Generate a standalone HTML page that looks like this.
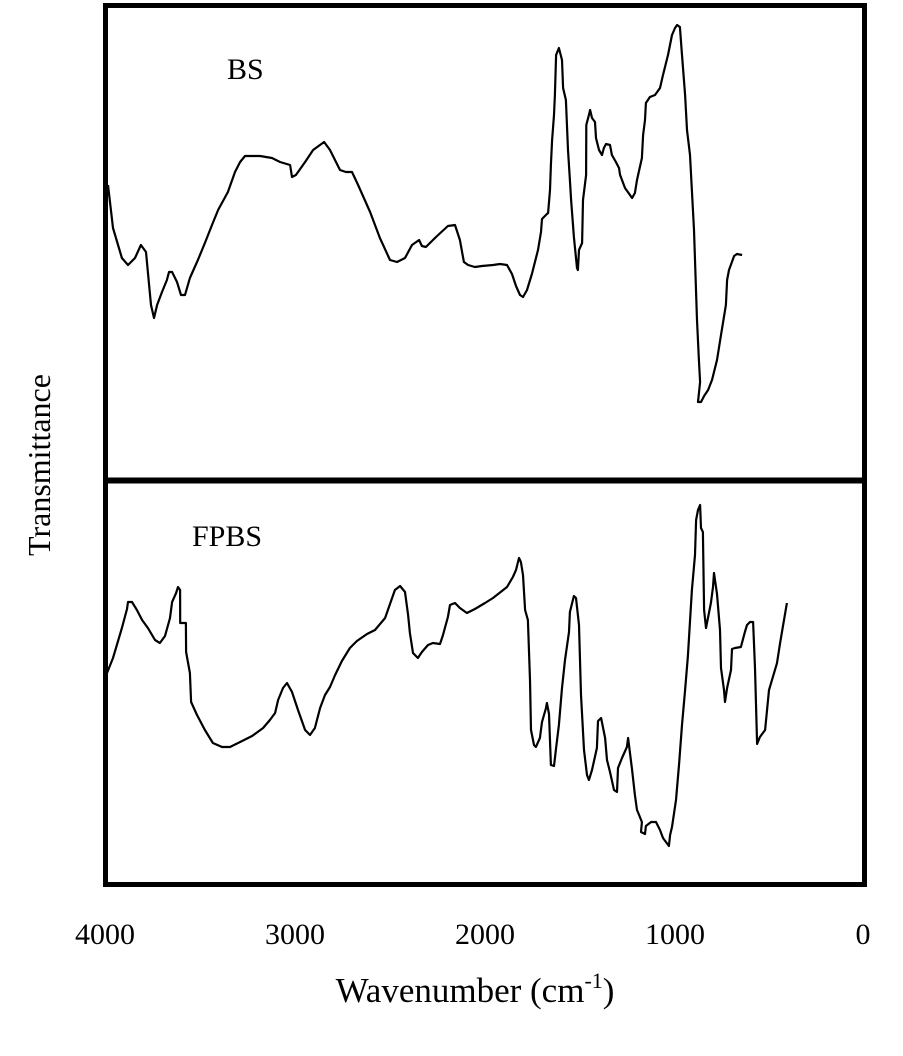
<!DOCTYPE html>
<html><head><meta charset="utf-8"><style>
html,body{margin:0;padding:0;background:#fff;}
svg{display:block;font-family:"Liberation Serif",serif;}
</style></head><body>
<svg id="chart" width="903" height="1056" viewBox="0 0 903 1056" xmlns="http://www.w3.org/2000/svg">
<rect x="0" y="0" width="903" height="1056" fill="#fff"/>
<g id="plots"></g>
<rect x="105.5" y="5.5" width="759" height="879" fill="none" stroke="#000" stroke-width="5"/>
<line x1="105" y1="480.5" x2="865" y2="480.5" stroke="#000" stroke-width="6"/>
<text x="227" y="79" font-size="30">BS</text>
<text x="192" y="546" font-size="30">FPBS</text>
<g id="ticks"></g>
<text x="475" y="1002" font-size="35" text-anchor="middle">Wavenumber (cm<tspan font-size="22" dy="-14">-1</tspan><tspan dy="14">)</tspan></text>
<text transform="translate(50,465) rotate(-90)" font-size="32" text-anchor="middle">Transmittance</text>
</svg>
<script>
const tickLabels=[4000,3000,2000,1000,0];
const bsWavenumber=[3984,3958,3911,3879,3842,3811,3784,3768,3758,3742,3726,3700,3674,3663,3647,3621,3600,3579,3553,3511,3474,3437,3405,3353,3316,3289,3263,3184,3121,3079,3026,3016,2995,2947,2905,2847,2816,2763,2732,2700,2668,2605,2553,2500,2463,2421,2384,2347,2332,2311,2258,2195,2158,2132,2111,2089,2053,2016,1958,1921,1884,1858,1837,1816,1800,1779,1753,1721,1705,1700,1674,1668,1658,1653,1647,1637,1632,1626,1611,1595,1589,1574,1563,1553,1547,1537,1532,1521,1516,1511,1505,1489,1484,1468,1467,1453,1447,1437,1421,1416,1400,1384,1374,1363,1342,1332,1311,1295,1289,1263,1226,1211,1200,1174,1168,1158,1153,1132,1105,1079,1063,1037,1016,1000,989,974,963,947,937,921,900,884,874,868,879,863,847,826,805,779,758,732,726,716,689,674,647];
const bsTransmittance=[295,252,222,215,222,235,228,195,175,162,175,188,200,208,208,198,185,185,202,220,237,255,270,288,308,318,324,324,322,318,315,303,305,318,330,338,330,310,308,308,295,268,242,220,218,222,235,240,234,233,243,254,255,240,218,215,213,214,215,216,215,206,194,185,183,190,206,230,248,261,266,267,290,315,340,365,385,425,432,420,392,380,330,300,280,255,243,222,212,210,230,237,280,305,355,365,370,362,358,342,330,325,332,336,335,325,318,312,305,292,282,287,300,322,345,360,377,383,385,392,405,425,445,452,455,453,425,385,350,325,250,160,120,98,78,78,84,90,100,120,145,175,200,210,224,226,225];
const fpbsWavenumber=[4000,3958,3911,3884,3879,3858,3832,3805,3774,3737,3711,3684,3658,3647,3626,3616,3605,3604,3574,3573,3553,3547,3516,3474,3432,3384,3342,3289,3226,3168,3132,3105,3089,3063,3042,3016,2984,2947,2921,2895,2868,2842,2816,2789,2753,2711,2674,2621,2579,2526,2474,2447,2421,2405,2395,2379,2353,2332,2300,2274,2237,2221,2195,2184,2158,2132,2095,2053,2000,1958,1884,1853,1837,1821,1811,1800,1789,1774,1763,1758,1742,1732,1711,1700,1679,1674,1663,1653,1637,1626,1611,1595,1579,1558,1553,1532,1521,1505,1495,1479,1463,1453,1437,1411,1405,1389,1368,1358,1342,1321,1305,1300,1279,1253,1247,1226,1211,1200,1189,1174,1179,1158,1153,1126,1100,1079,1063,1032,1026,1016,995,979,963,947,932,911,895,889,879,868,863,853,847,837,811,800,795,779,763,758,742,737,726,705,700,684,653,632,621,605,589,579,568,553,526,505,463,447,411];
const fpbsTransmittance=[207,227,257,276,283,283,275,265,257,245,242,249,267,283,292,298,295,262,262,233,212,183,170,155,142,138,138,143,149,157,165,172,185,197,202,193,175,155,150,157,177,190,198,210,224,237,244,251,255,267,295,299,293,270,252,232,227,233,240,242,241,250,268,280,282,277,272,276,282,287,298,308,315,327,323,310,275,265,205,155,140,138,147,163,177,182,171,120,119,137,160,197,225,253,273,289,287,260,190,135,110,105,115,137,164,167,147,125,113,95,93,117,127,138,147,115,90,75,70,63,53,51,59,63,63,55,47,39,50,58,85,120,160,195,229,295,330,365,375,380,357,353,275,257,282,298,312,291,255,217,195,183,197,215,236,237,238,253,260,263,263,217,141,148,155,195,222,242,282];

const NS='http://www.w3.org/2000/svg';
function xScale(w){return 105+(4000-w)*0.19;}
function yTop(t){return 480-t;}
function yBot(t){return 885-t;}
const plots=document.getElementById('plots');
function drawLine(xs,ys,yf,name){
  let d='';
  for(let i=0;i<xs.length;i++){d+=(i?'L':'M')+xScale(xs[i]).toFixed(1)+','+yf(ys[i]).toFixed(1);}
  const p=document.createElementNS(NS,'path');
  p.setAttribute('d',d);p.setAttribute('fill','none');p.setAttribute('stroke','#000');
  p.setAttribute('stroke-width','2.2');p.setAttribute('stroke-linejoin','round');
  
  
  plots.appendChild(p);
}
drawLine(bsWavenumber,bsTransmittance,yTop,'bs-spectrum-line');
drawLine(fpbsWavenumber,fpbsTransmittance,yBot,'fpbs-spectrum-line');
const ticks=document.getElementById('ticks');
tickLabels.forEach(v=>{
  const t=document.createElementNS(NS,'text');
  t.setAttribute('x',xScale(v)+(v===0?-2:0));t.setAttribute('y',944);
  t.setAttribute('font-size','30');t.setAttribute('text-anchor','middle');
  t.textContent=v;
  
  
  ticks.appendChild(t);
});
</script>
</body></html>
